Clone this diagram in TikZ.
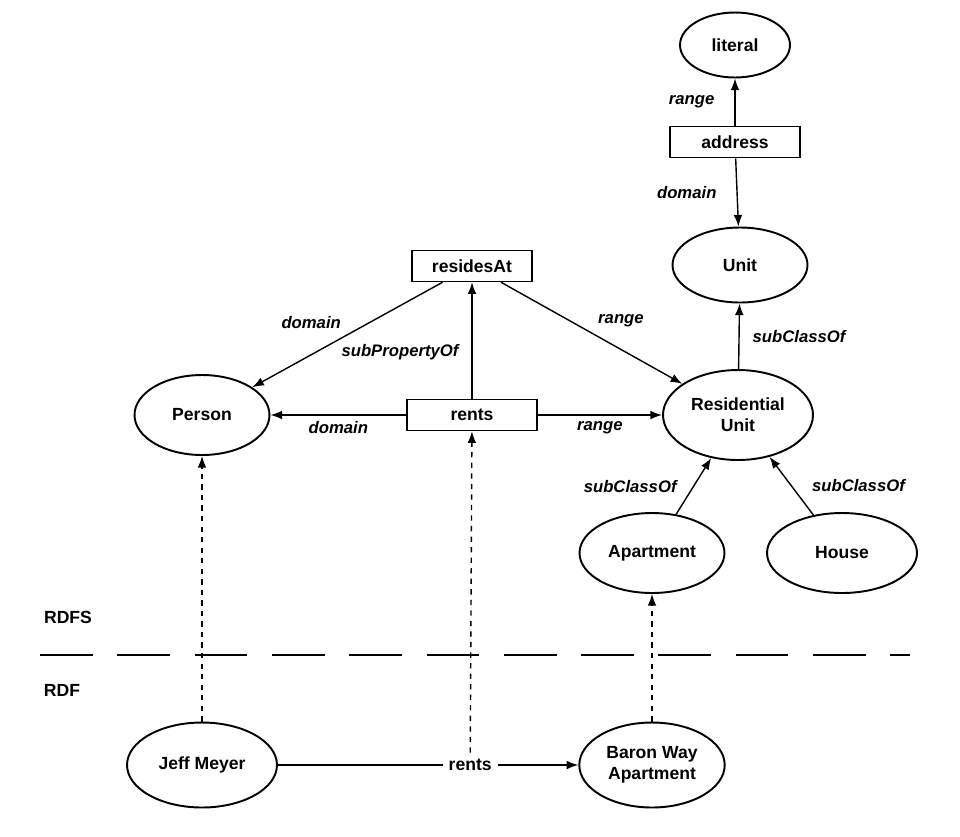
\documentclass[tikz,border=0pt]{standalone}
\usepackage{fontspec}
\setmainfont{Liberation Sans}
\usepackage{xcolor}
\usetikzlibrary{shapes.geometric,arrows.meta,positioning}

\begin{document}
\begin{tikzpicture}[x=0.02cm, y=-0.02cm,
    cls/.style={ellipse, draw, line width=1.1pt, fill=white, align=center, font=\bfseries\fontsize{10}{12}\selectfont},
    prop/.style={rectangle, draw, line width=0.9pt, fill=white, minimum width=2.4cm, minimum height=0.62cm, font=\bfseries\fontsize{10}{12}\selectfont},
    lbl/.style={font=\itshape\bfseries\fontsize{9.5}{11}\selectfont},
    arrow/.style={-Latex, line width=0.8pt},
    inst/.style={-Latex, line width=0.8pt, dashed}]
    \useasboundingbox (0,0) rectangle (960,836);

    \node [cls, minimum width=2.2cm, minimum height=1.3cm] (literal) at (735,45) {literal};
    \node [prop, minimum width=2.6cm] (address) at (735,142) {address};
    \node [cls, minimum width=2.7cm, minimum height=1.5cm] (unit) at (740,265) {Unit};
    \node [prop] (residesAt) at (472,266) {residesAt};
    \node [cls, minimum width=2.7cm, minimum height=1.6cm] (person) at (202,415) {Person};
    \node [prop, minimum width=2.6cm] (rents) at (472,415) {rents};
    \node [cls, minimum width=3cm, minimum height=1.8cm] (resunit) at (738,415) {Residential\\Unit};
    \node [cls, minimum width=2.9cm, minimum height=1.6cm] (apartment) at (652,553) {Apartment};
    \node [cls, minimum width=3cm, minimum height=1.6cm] (house) at (842,553) {House};
    \node [cls, minimum width=3cm, minimum height=1.7cm] (jeff) at (202,765) {Jeff Meyer};
    \node [cls, minimum width=2.8cm, minimum height=1.7cm] (baron) at (652,765) {Baron Way\\Apartment};

    % Layers
    \node [font=\bfseries\fontsize{10}{12}\selectfont] (rdfs) at (68,617) {RDFS};
    \node [font=\bfseries\fontsize{10}{12}\selectfont] (rdf) at (62,690) {RDF};
    \coordinate (sepL) at (40,655);
    \coordinate (sepR) at (910,655);
    \draw [line width=1.4pt, dash pattern=on 30pt off 14pt] (sepL) -- (sepR);

    % Arrows
    \draw [arrow] (address) -- node[lbl, left=8pt] {range} (literal);
    \draw [arrow] (address) -- node[lbl, left=8pt] {domain} (unit);
    \draw [arrow] (residesAt) -- node[lbl, above left] {domain} (person);
    \draw [arrow] (residesAt) -- node[lbl, above right] {range} (resunit);
    \draw [arrow] (rents) -- node[lbl, left=4pt, pos=0.4] {subPropertyOf} (residesAt);
    \draw [arrow] (rents) -- node[lbl, below] {domain} (person);
    \draw [arrow] (rents) -- node[lbl, below] {range} (resunit);
    \draw [arrow] (resunit) -- node[lbl, right=4pt] {subClassOf} (unit);
    \draw [arrow] (apartment) -- node[lbl, left=6pt] {subClassOf} (resunit);
    \draw [arrow] (house) -- node[lbl, right=8pt] {subClassOf} (resunit);
    \draw [arrow] (jeff) -- node[pos=0.64, fill=white, font=\bfseries\fontsize{10}{12}\selectfont] (rentsLbl) {rents} (baron);
    \draw [inst] (jeff) -- (person);
    \draw [inst] (rentsLbl) -- (rents);
    \draw [inst] (baron) -- (apartment);
\end{tikzpicture}
\end{document}
